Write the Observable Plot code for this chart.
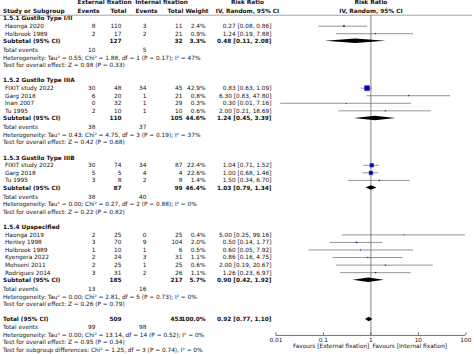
<!DOCTYPE html>
<html><head><meta charset="utf-8">
<script src="https://cdn.jsdelivr.net/npm/d3@7"></script>
<script src="https://cdn.jsdelivr.net/npm/@observablehq/plot@0.6"></script>
<style>
body{margin:0;background:#fff}
#chart{position:relative;width:474px;height:354px;overflow:hidden}
#chart svg{position:absolute;left:0;top:0}
</style></head><body><div id="chart"></div>
<script>
// ---------- DATA ----------
const groupTitles = ["1.5.1 Gustilo Type I/II","1.5.2 Gustilo Type IIIA","1.5.3 Gustilo Type IIIB","1.5.4 Upspecified"];
const studyGroup = [0,0,1,1,1,1,2,2,2,3,3,3,3,3,3];
const studyNames = ["Haonga 2020","Holbrook 1989","FIXIT study 2022","Garg 2018","Inan 2007","Tu 1995","FIXIT study 2022","Garg 2018","Tu 1995","Haonga 2019","Henley 1998","Holbrook 1989","Kyengera 2022","Mohseni 2011","Rodrigues 2014"];
const extEvents = [8,2,30,6,0,2,30,5,3,2,3,1,2,2,3];
const extTotal  = [110,17,48,20,32,10,74,5,8,25,70,10,24,25,31];
const intEvents = [3,2,34,1,1,1,34,4,2,0,9,1,3,1,2];
const intTotal  = [11,21,45,21,29,10,87,4,8,25,104,6,31,25,26];
const weight    = [2.4,0.9,42.9,0.8,0.3,0.6,22.4,22.6,1.4,0.4,2.0,0.5,1.1,0.6,1.1];
const riskRatio = [0.27,1.24,0.83,6.30,0.30,2.00,1.04,1.00,1.50,5.00,0.50,0.60,0.86,2.00,1.26];
const ciLower   = [0.08,0.19,0.63,0.83,0.0126,0.21,0.71,0.68,0.34,0.25,0.14,0.05,0.16,0.19,0.23];
const ciUpper   = [0.86,7.88,1.09,47.80,7.16,18.69,1.52,1.46,6.70,99.16,1.77,7.92,4.75,20.67,6.97];

const subExtTotal  = [127,110,87,185];
const subIntTotal  = [32,105,99,217];
const subWeight    = [3.3,44.6,46.4,5.7];
const subRR        = [0.48,1.24,1.03,0.90];
const subLower     = [0.11,0.45,0.79,0.42];
const subUpper     = [2.08,3.39,1.34,1.92];
const subExtEvents = [10,38,38,13];
const subIntEvents = [5,37,40,16];
const subHet = [
  "Tau² = 0.55; Chi² = 1.88, df = 1 (P = 0.17); I² = 47%",
  "Tau² = 0.43; Chi² = 4.75, df = 3 (P = 0.19); I² = 37%",
  "Tau² = 0.00; Chi² = 0.27, df = 2 (P = 0.88); I² = 0%",
  "Tau² = 0.00; Chi² = 2.81, df = 5 (P = 0.73); I² = 0%"];
const subTest = ["Z = 0.98 (P = 0.33)","Z = 0.42 (P = 0.68)","Z = 0.22 (P = 0.82)","Z = 0.26 (P = 0.79)"];

const totalValues = [509, 453, 100.0, 0.92, 0.77, 1.10]; // ext total, int total, weight, RR, lower, upper
const totalEvents = [99, 98];
const totalHet = "Tau² = 0.00; Chi² = 13.14, df = 14 (P = 0.52); I² = 0%";
const totalTest = "Z = 0.95 (P = 0.34)";
const subgroupTest = "Chi² = 1.25, df = 3 (P = 0.74), I² = 0%";

const axisTicks  = [0.01, 0.1, 1, 10, 100];
const axisLabels = ["0.01", "0.1", "1", "10", "100"];
const favours = ["Favours [External fixation]", "Favours [Internal fixation]"];
const headTop = ["External fixation", "Internal fixation", "Risk Ratio", "Risk Ratio"];
const headCols = ["Study or Subgroup", "Events", "Total", "Events", "Total", "Weight", "IV, Random, 95% CI", "IV, Random, 95% CI"];

// ---------- LAYOUT (row bookkeeping) ----------
const fmtCI = (m, l, u) => `${m.toFixed(2)} [${l.toFixed(2)}, ${u.toFixed(2)}]`;
const rows = [];
let r = -1;
groupTitles.forEach((g, gi) => {
  rows.push({row: r, type: "group", label: g}); r += 1;
  studyNames.forEach((n, i) => {
    if (studyGroup[i] !== gi) return;
    rows.push({row: r, type: "study", label: n, c1: extEvents[i], c2: extTotal[i], c3: intEvents[i], c4: intTotal[i],
      w: weight[i], rr: riskRatio[i], lo: ciLower[i], hi: ciUpper[i]});
    r += 1;
  });
  rows.push({row: r, type: "sub", label: "Subtotal (95% CI)", c2: subExtTotal[gi], c4: subIntTotal[gi],
    w: subWeight[gi], rr: subRR[gi], lo: subLower[gi], hi: subUpper[gi]});
  r += 1.2;
  rows.push({row: r, type: "events", label: "Total events", c1: subExtEvents[gi], c3: subIntEvents[gi]}); r += 1;
  rows.push({row: r, type: "note", label: "Heterogeneity: " + subHet[gi]}); r += 1;
  rows.push({row: r, type: "note", label: "Test for overall effect: " + subTest[gi]}); r += 1;
  r += 1;
});
rows.push({row: r, type: "sub", label: "Total (95% CI)", c2: totalValues[0], c4: totalValues[1],
  w: totalValues[2], rr: totalValues[3], lo: totalValues[4], hi: totalValues[5]}); r += 1;
rows.push({row: r, type: "events", label: "Total events", c1: totalEvents[0], c3: totalEvents[1]}); r += 1;
rows.push({row: r, type: "note", label: "Heterogeneity: " + totalHet}); r += 1;
rows.push({row: r, type: "note", label: "Test for overall effect: " + totalTest}); r += 1;
rows.push({row: r, type: "note", label: "Test for subgroup differences: " + subgroupTest});
const lastRow = r;

const studies = rows.filter(d => d.type === "study");
const subs = rows.filter(d => d.type === "sub");
const eventRows = rows.filter(d => d.c1 !== undefined);
const isBold = d => d.type === "group" || d.type === "sub";

const yScale = {domain: [-1, lastRow], range: [18.1, 349.3], axis: null};
const FONT = "DejaVu Sans";
const FS = "5.8px";
const INK = "#111";
const axisRow = 40.9;
const headRow1 = -3.15, headRow2 = -2, ruleRow = -1.45;

const colX = {label: 2.5, study: 4.5, c1: 95, c2: 121, c3: 146, c4: 182, w: 205, ci: 271};
const headX = [2.5, 88, 118, 146, 175, 196.5, 247];
const headTopX = [104, 161, 247];

// ---------- TABLE ----------
const T = {fill: INK};
const bold = {fontWeight: "bold"};
const table = Plot.plot({
  width: 474, height: 354, margin: 0,
  style: {background: "none", fontFamily: FONT, fontSize: FS, overflow: "visible"},
  x: {domain: [0, 474], range: [0, 474], axis: null},
  y: yScale,
  marks: [
    Plot.ruleY([ruleRow], {y: d => d, x1: 0, x2: 472, stroke: "#666", strokeWidth: 0.6}),
    Plot.text(headTop.slice(0, 3), {x: (d, i) => headTopX[i], y: headRow1, text: d => d, ...bold, ...T}),
    Plot.text([headCols[0]], {x: headX[0], y: headRow2, text: d => d, textAnchor: "start", ...bold, ...T}),
    Plot.text(headCols.slice(1, 7), {x: (d, i) => headX[i + 1], y: headRow2, text: d => d, ...bold, ...T}),
    Plot.text(rows.filter(d => d.type !== "study" && !isBold(d)), {x: colX.label, y: "row", text: "label", textAnchor: "start", ...T}),
    Plot.text(rows.filter(isBold), {x: colX.label, y: "row", text: "label", textAnchor: "start", ...bold, ...T}),
    Plot.text(studies, {x: colX.study, y: "row", text: "label", textAnchor: "start", ...T}),
    Plot.text(eventRows, {x: colX.c1, y: "row", text: d => String(d.c1), textAnchor: "end", ...T}),
    Plot.text(eventRows, {x: colX.c3, y: "row", text: d => String(d.c3), textAnchor: "end", ...T}),
    Plot.text(studies, {x: colX.c2, y: "row", text: d => String(d.c2), textAnchor: "end", ...T}),
    Plot.text(studies, {x: colX.c4, y: "row", text: d => String(d.c4), textAnchor: "end", ...T}),
    Plot.text(studies, {x: colX.w, y: "row", text: d => d.w.toFixed(1) + "%", textAnchor: "end", ...T}),
    Plot.text(studies, {x: colX.ci, y: "row", text: d => fmtCI(d.rr, d.lo, d.hi), textAnchor: "end", ...T}),
    Plot.text(subs, {x: colX.c2, y: "row", text: d => String(d.c2), textAnchor: "end", ...bold, ...T}),
    Plot.text(subs, {x: colX.c4, y: "row", text: d => String(d.c4), textAnchor: "end", ...bold, ...T}),
    Plot.text(subs, {x: colX.w, y: "row", text: d => d.w.toFixed(1) + "%", textAnchor: "end", ...bold, ...T}),
    Plot.text(subs, {x: colX.ci, y: "row", text: d => fmtCI(d.rr, d.lo, d.hi), textAnchor: "end", ...bold, ...T})
  ]
});

// ---------- FOREST ----------
const diamondPts = subs.flatMap((d, id) => [
  {id, y: d.row - 0.3, x1: d.rr, x2: d.rr},
  {id, y: d.row, x1: d.lo, x2: d.hi},
  {id, y: d.row + 0.3, x1: d.rr, x2: d.rr}
]);
const forest = Plot.plot({
  width: 474, height: 354, margin: 0,
  style: {background: "none", fontFamily: FONT, fontSize: FS, overflow: "visible"},
  x: {type: "log", domain: [0.01, 100], range: [275.5, 465.3], axis: null},
  y: yScale,
  r: {domain: [0, 42.9], range: [0, 2.75]},
  marks: [
    Plot.text([headTop[3]], {x: 1, y: headRow1, text: d => d, ...bold, ...T}),
    Plot.text([headCols[7]], {x: 1, y: headRow2, text: d => d, ...bold, ...T}),
    Plot.ruleX([1], {x: d => d, y1: ruleRow, y2: axisRow, stroke: "#777", strokeWidth: 0.9}),
    Plot.ruleY(studies, {y: "row", x1: d => Math.max(d.lo, 0.01), x2: d => Math.min(d.hi, 100), stroke: "#666", strokeWidth: 0.7}),
    Plot.dot(studies, {x: "rr", y: "row", r: "w", symbol: "square", fill: "#0a0ab4", stroke: "#0a0ab4", strokeWidth: 0.5}),
    Plot.areaX(diamondPts, {y: "y", x1: "x1", x2: "x2", z: "id", fill: "#000"}),
    Plot.ruleY([axisRow], {y: d => d, x1: axisTicks[0], x2: axisTicks[axisTicks.length - 1], stroke: "#333", strokeWidth: 0.7}),
    Plot.ruleX(axisTicks, {x: d => d, y1: axisRow - 0.35, y2: axisRow, stroke: "#333", strokeWidth: 0.7}),
    Plot.text(axisTicks, {x: d => d, y: axisRow + 0.6, text: (d, i) => axisLabels[i], ...T}),
    Plot.text([favours[0]], {x: 1, y: axisRow + 1.35, text: d => d, textAnchor: "end", dx: -1.5, ...T}),
    Plot.text([favours[1]], {x: 1, y: axisRow + 1.35, text: d => d, textAnchor: "start", dx: 1.5, ...T})
  ]
});

const host = document.getElementById("chart");
host.appendChild(table);
host.appendChild(forest);
</script>
</body></html>
